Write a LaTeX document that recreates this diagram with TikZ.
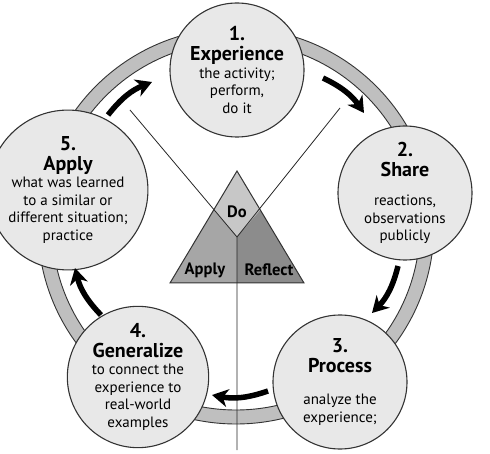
\documentclass[tikz,border=0pt]{standalone}
\usepackage{fontspec}
\setmainfont{PT Sans}
\usetikzlibrary{arrows.meta, positioning}

\newcommand\headfont{\fontsize{20}{20}\selectfont\bfseries}
\newcommand\stagehead[2]{{\headfont #1}\\[2pt]{\headfont #2}}

\begin{document}
\begin{tikzpicture}[x=1pt, y=-1pt,
  stage/.style={circle, draw=black!80, line width=1.1pt, fill=black!9,
    minimum size=134pt, inner sep=0pt, align=center,
    font=\fontsize{15}{17.6}\selectfont},
  cycle arrow/.style={line width=5.5pt, -{Stealth[length=16pt,width=18pt,inset=5pt]}},
  corner/.style={font=\fontsize{16.5}{16}\selectfont\bfseries, inner sep=1pt}]

\useasboundingbox (0,0) rectangle (490,454);

% ring behind the stages
\fill[black!25, even odd rule] (236,226) circle[radius=198pt] (236,226) circle[radius=184pt];
\draw[black!80, line width=0.9pt] (236,226) circle[radius=198pt] (236,226) circle[radius=184pt];

% triangle
\coordinate (top) at (237,171);
\coordinate (bl) at (170,283);
\coordinate (br) at (304,283);
\coordinate (dl) at (213.7,210);
\coordinate (dr) at (260.3,210);
\coordinate (hub) at (237,237);
\coordinate (bm) at (237,283);
\fill[black!22] (top) -- (dr) -- (hub) -- (dl) -- cycle;
\fill[black!35] (dl) -- (hub) -- (bm) -- (bl) -- cycle;
\fill[black!45] (dr) -- (hub) -- (bm) -- (br) -- cycle;
\draw[black!80, line width=1pt] (top) -- (bl) -- (br) -- cycle;
\node[corner] (do) at (237,212) {Do};
\node[corner] (apply) at (205,270) {Apply};
\node[corner] (reflect) at (269,270) {Reflect};

% spokes
\coordinate (lt) at (130,110);
\coordinate (rt) at (340,108);
\coordinate (bt) at (237,450);
\draw[black!85, line width=0.8pt] (lt) -- (hub) -- (rt) (hub) -- (bt);

% stages
\node[stage] (1) at (237,70) {\stagehead{1.}{Experience}\\the activity;\\perform,\\do it};
\node[stage] (2) at (405,193) {\stagehead{2.}{Share}\\[12pt]reactions,\\observations\\publicly};
\node[stage] (3) at (340,382) {\stagehead{3.}{Process}\\[15pt]analyze the\\experience;};
\node[stage] (4) at (138,377) {\stagehead{4.}{Generalize}\\to connect the\\experience to\\real-world\\examples};
\node[stage] (5) at (68,190) {\stagehead{5.}{Apply}\\what was learned\\to a similar or\\different situation;\\practice};

% arrows between the stages
\coordinate (a1s) at (323,78);  \coordinate (a1e) at (364,113);
\coordinate (a2s) at (398,266); \coordinate (a2e) at (372,313);
\coordinate (a3s) at (268,391); \coordinate (a3e) at (212,395);
\coordinate (a4s) at (101,315); \coordinate (a4e) at (75,268);
\coordinate (a5s) at (108,115); \coordinate (a5e) at (152,82);
\draw[cycle arrow] (a1s) to[bend left=15] (a1e);
\draw[cycle arrow] (a2s) to[bend left=15] (a2e);
\draw[cycle arrow] (a3s) to[bend left=15] (a3e);
\draw[cycle arrow] (a4s) to[bend left=15] (a4e);
\draw[cycle arrow] (a5s) to[bend left=15] (a5e);

\end{tikzpicture}
\end{document}
